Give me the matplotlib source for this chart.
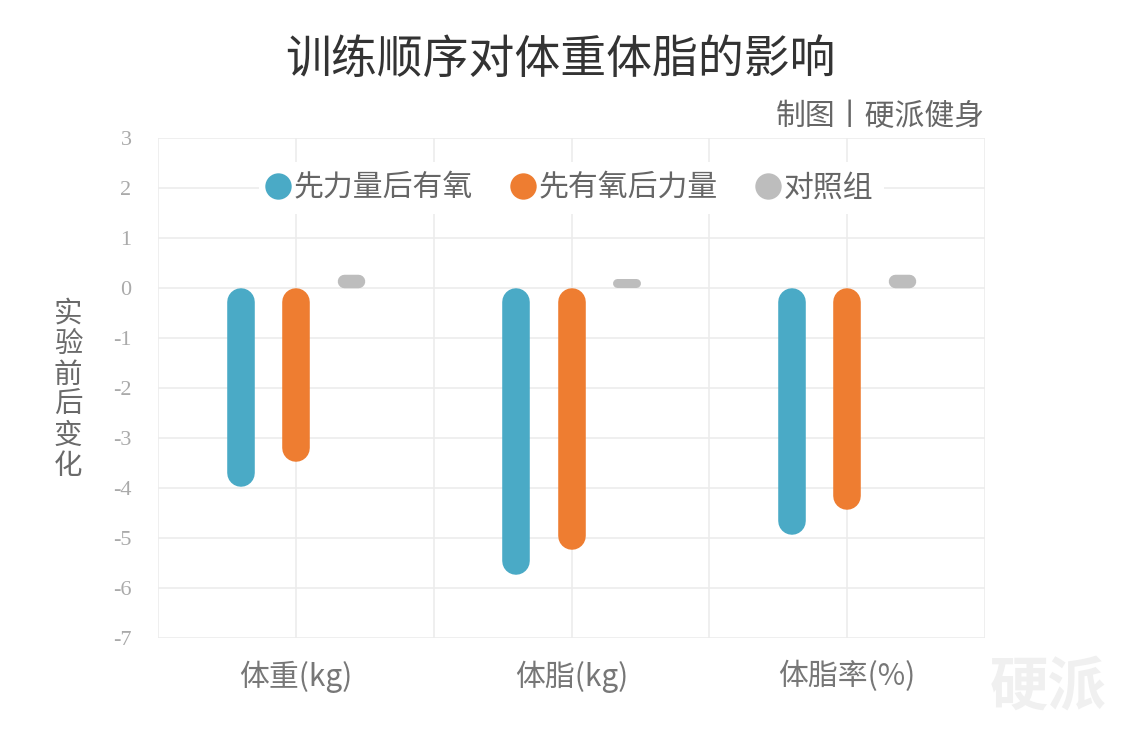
import matplotlib
matplotlib.use("Agg")
import matplotlib.pyplot as plt
from matplotlib.lines import Line2D
import numpy as np

plt.rcParams['font.family'] = ['Noto Sans CJK SC', 'DejaVu Sans']

categories = ['体重(kg)', '体脂(kg)', '体脂率(%)']
series_names = ['先力量后有氧', '先有氧后力量', '对照组']
strength_first = [-3.97, -5.74, -4.94]
cardio_first = [-3.47, -5.24, -4.43]
control = [0.27, 0.18, 0.27]
colors = ['#4aaac6', '#ee7d31', '#bdbdbd']
yticks = [3, 2, 1, 0, -1, -2, -3, -4, -5, -6, -7]

W, H = 1125, 730
fig = plt.figure(figsize=(W / 100, H / 100), dpi=100)
fig.patch.set_facecolor('white')
L, R, T, B = 158, 985, 138, 638
ax = fig.add_axes([L / W, 1 - B / H, (R - L) / W, (B - T) / H])
ax.set_xlim(-0.5, 2.5)
ax.set_ylim(-7, 3)

# grid
for y in yticks:
    ax.axhline(y, color='#ececec', lw=1.2, zorder=0)
for x in [-0.5, 0, 0.5, 1, 1.5, 2, 2.5]:
    ax.axvline(x, color='#ececec', lw=1.2, zorder=0)
for s in ax.spines.values():
    s.set_visible(False)

# rounded (capsule) bars drawn as thick lines with round caps
xu = 3.0 / (R - L)      # x units per pixel
yu = 10.0 / (B - T)     # y units per pixel
bar_w = 0.1
offsets = [-0.2, 0.0, 0.2]
all_series = [strength_first, cardio_first, control]
for si, vals in enumerate(all_series):
    for ci, v in enumerate(vals):
        xc = ci + offsets[si]
        w_px = bar_w / xu
        h_px = abs(v) / yu
        y0, y1 = min(0, v), max(0, v)
        if h_px >= w_px:
            r = (w_px / 2) * yu
            ax.plot([xc, xc], [y0 + r, y1 - r], color=colors[si],
                    lw=w_px * 0.72, solid_capstyle='round', zorder=3)
        else:
            r = (h_px / 2) * xu
            ym = (y0 + y1) / 2
            ax.plot([xc - bar_w / 2 + r, xc + bar_w / 2 - r], [ym, ym],
                    color=colors[si], lw=h_px * 0.72,
                    solid_capstyle='round', zorder=3)

ax.set_xticks(range(len(categories)))
ax.set_xticklabels(categories, fontsize=21.5, color='#777777')
ax.set_yticks(yticks)
ax.set_yticklabels([str(t) for t in yticks], fontsize=16, color='#aaaaaa',
                   family=['Liberation Serif'])
ax.tick_params(length=0)
ax.tick_params(axis='x', pad=16)
ax.tick_params(axis='y', pad=19)

# legend
handles = [Line2D([0], [0], marker='o', color='none', markerfacecolor=c,
                  markeredgecolor='none', markersize=19) for c in colors]
leg = ax.legend(handles, series_names, loc='center', bbox_to_anchor=(0.5, 0.9),
                ncol=3, frameon=True, fontsize=21.5, handlelength=0.55,
                handletextpad=0.25, columnspacing=1.4, borderpad=0.35)
leg.get_frame().set_facecolor('white')
leg.get_frame().set_edgecolor('none')
leg.get_frame().set_alpha(1)
leg.set_zorder(5)
for t in leg.get_texts():
    t.set_color('#666666')

# y label (vertical stacked)
fig.text(68 / W, 1 - 390 / H, '\n'.join('实验前后变化'), fontsize=20.5, color='#6a6a6a',
         ha='center', va='center', linespacing=1.02)

# title and credit
fig.text(560 / W, 1 - 60 / H, '训练顺序对体重体脂的影响', fontsize=33, color='#333333',
         ha='center', va='center')
fig.text(R / W, 1 - 117 / H, '制图丨硬派健身', fontsize=21.5, color='#666666',
         ha='right', va='center')

# watermark
fig.text(1048 / W, 1 - 688 / H, '硬派', fontsize=42, color='#f0f0f0',
         ha='center', va='center', style='italic', fontweight='bold')

fig.savefig('out.png', dpi=100, facecolor='white')
